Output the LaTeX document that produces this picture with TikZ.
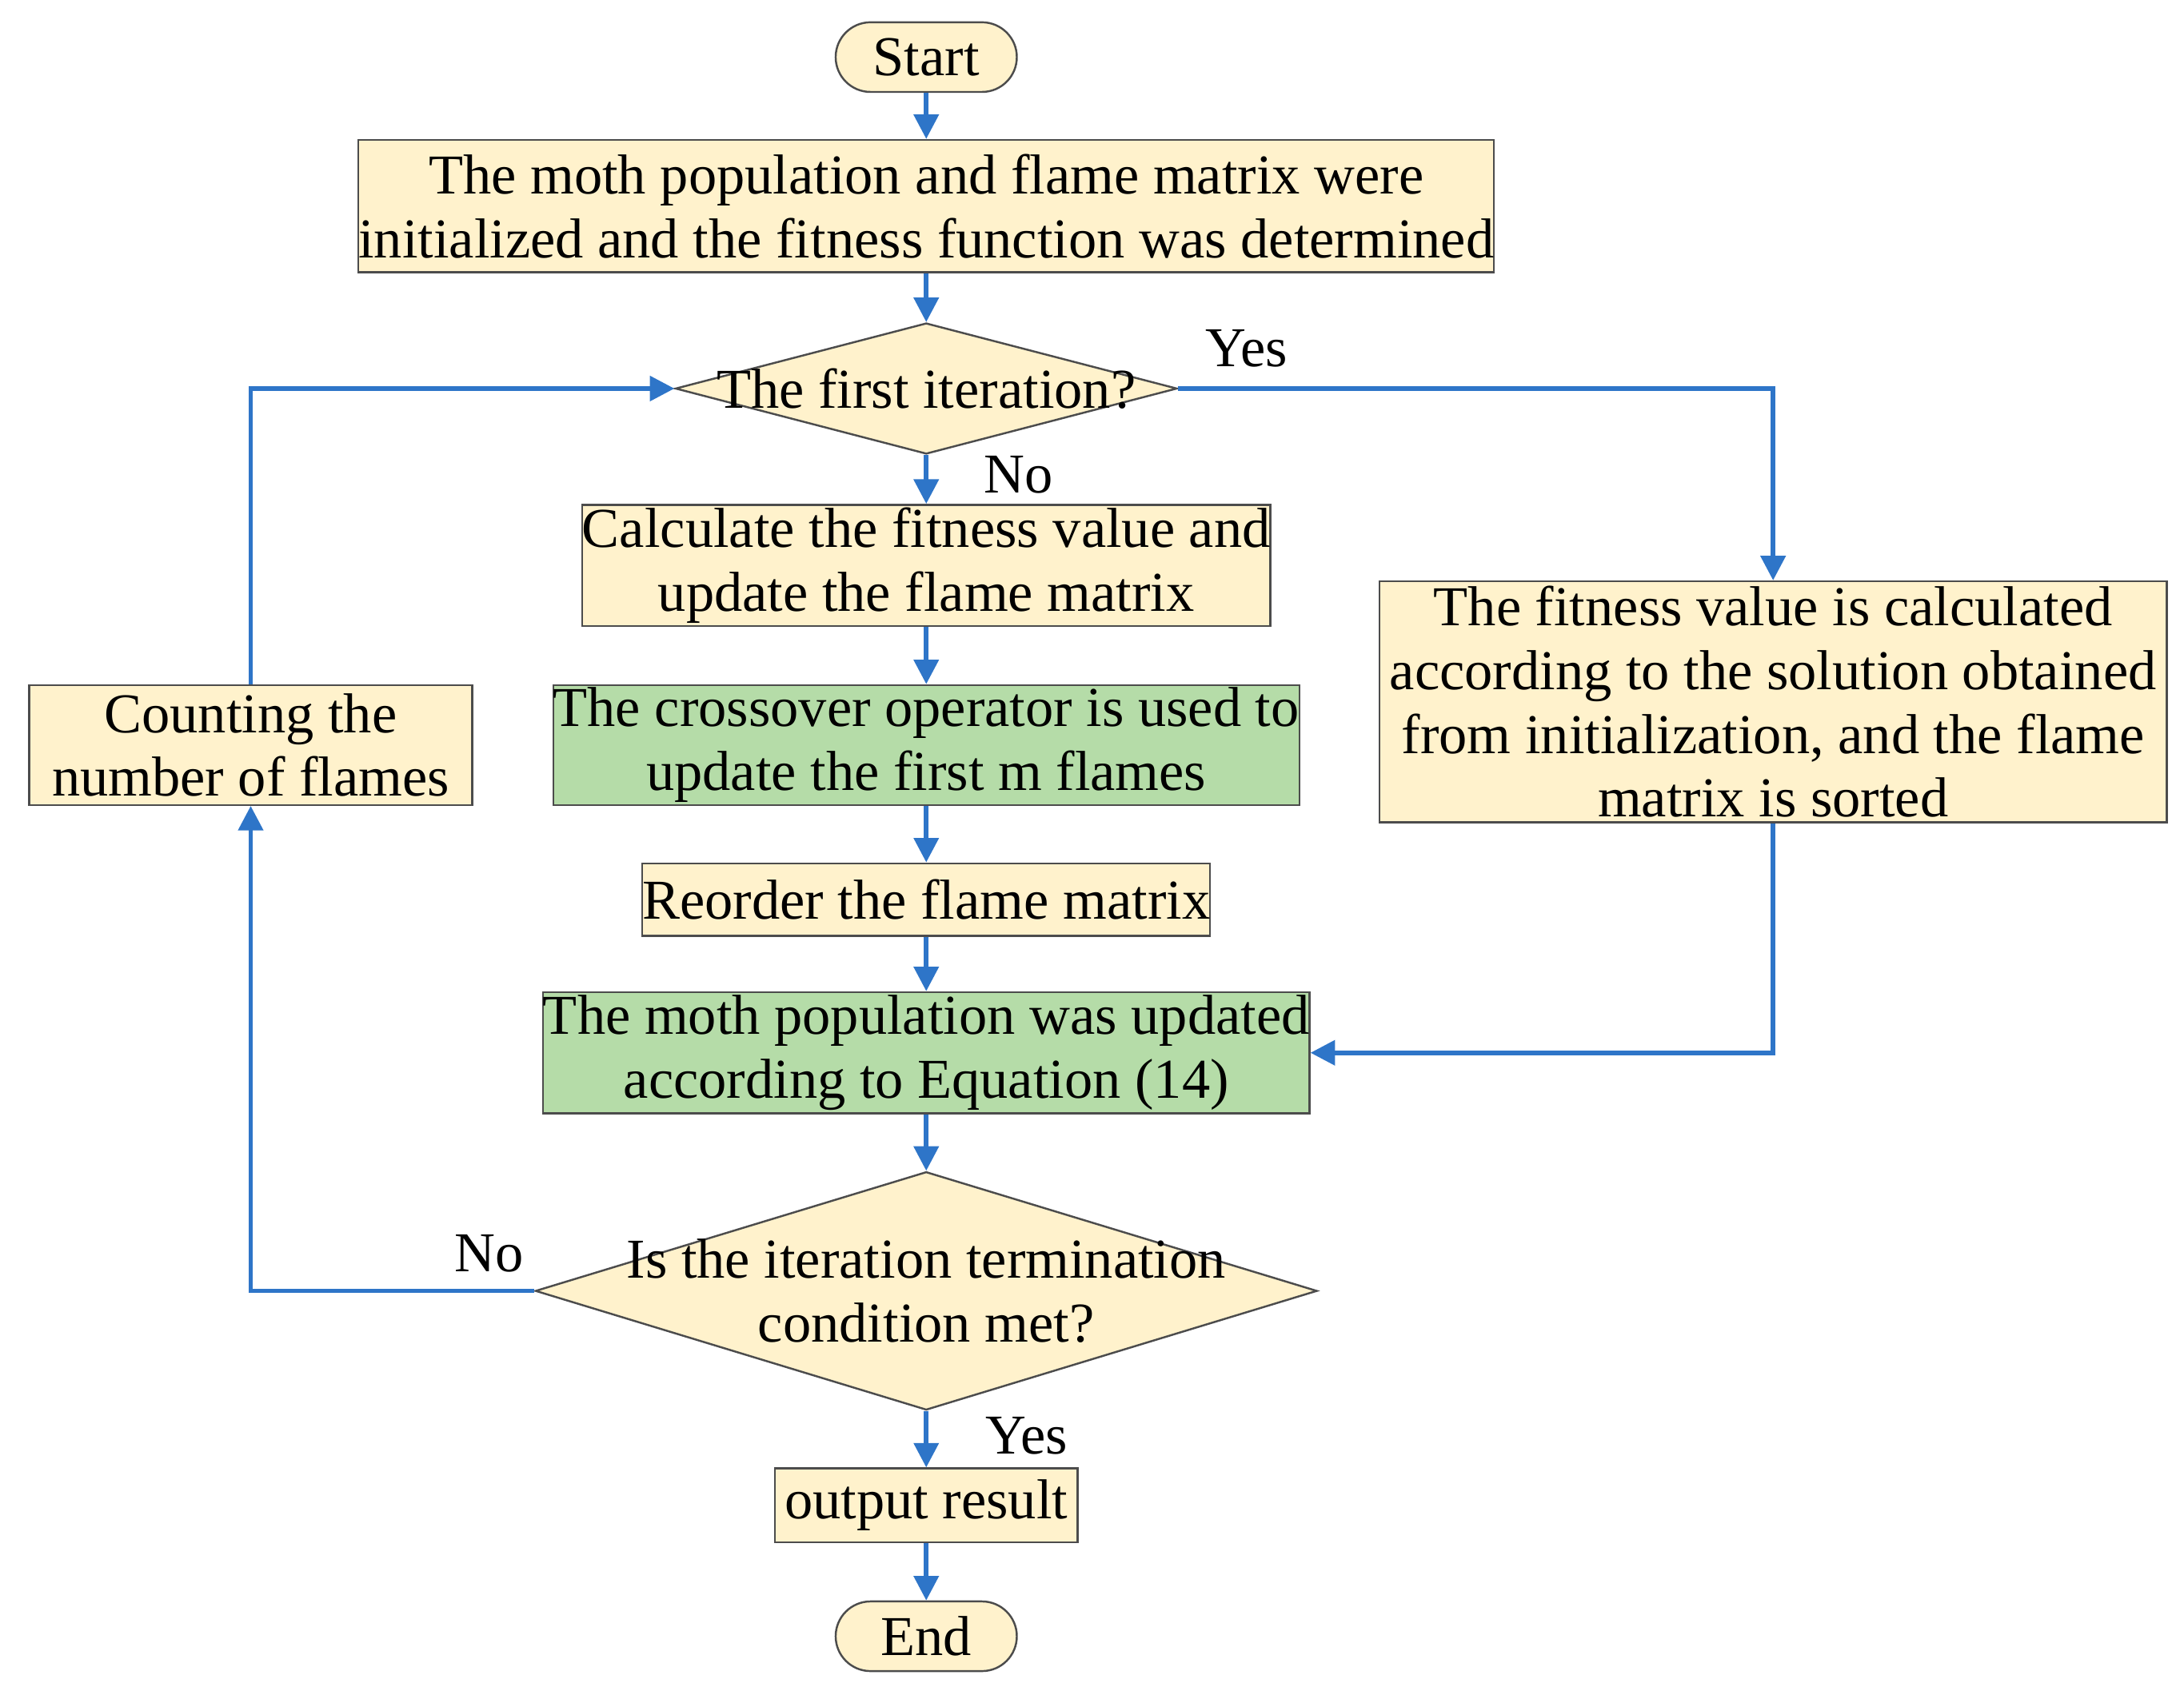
\documentclass[tikz,border=0pt]{standalone}
\usepackage{fontspec}
\setmainfont{Liberation Serif}
\usetikzlibrary{shapes.geometric,arrows.meta}
\definecolor{boxfill}{HTML}{FFF2CC}
\definecolor{greenfill}{HTML}{B5DCA8}
\definecolor{flowblue}{HTML}{2E75C8}
\tikzset{
  proc/.style={draw=black!70, fill=boxfill, align=center, inner sep=0pt, font=\fontsize{11.5}{13}\selectfont},
  green/.style={proc, fill=greenfill},
  term/.style={proc, rounded corners=0.25cm, minimum width=1.3cm, minimum height=0.5cm},
  decide/.style={proc, diamond, aspect=3.8, inner sep=0pt},
  flow/.style={draw=flowblue, line width=0.9pt, -{Triangle[length=5pt,width=5pt]}},
  lbl/.style={font=\fontsize{11.5}{13}\selectfont}
}
\begin{document}
\begin{tikzpicture}[x=0.01cm, y=-0.01cm]
\useasboundingbox (0,0) rectangle (1568,1217);
\node[term] (start) at (665,41) {Start};
\node[proc, minimum width=7.57cm, minimum height=0.95cm] (init) at (665,148) {The moth population and flame matrix were\\initialized and the fitness function was determined};
\node[decide, minimum width=3.6cm, minimum height=0.94cm] (first) at (665,279) {};
\node[lbl] at (665,279) {The first iteration?};
\node[proc, minimum width=4.69cm, minimum height=0.87cm] (calc) at (665,406) {Calculate the fitness value and\\update the flame matrix};
\node[green, minimum width=5.04cm, minimum height=0.86cm] (cross) at (665,535) {The crossover operator is used to\\update the first m flames};
\node[proc, minimum width=3.91cm, minimum height=0.52cm] (reorder) at (665,646) {Reorder the flame matrix};
\node[green, minimum width=5.27cm, minimum height=0.87cm] (moth) at (665,756) {The moth population was updated\\according to Equation (14)};
\node[decide, minimum width=5.61cm, minimum height=1.71cm, aspect=3.3] (term) at (665,927) {};
\node[lbl, align=center] at (665,927) {Is the iteration termination\\condition met?};
\node[proc, minimum width=2.17cm, minimum height=0.53cm] (out) at (665,1081) {output result};
\node[term] (end) at (665,1175) {End};
\node[proc, minimum width=5.65cm, minimum height=1.73cm] (sol) at (1273,504) {The fitness value is calculated\\according to the solution obtained\\from initialization, and the flame\\matrix is sorted};
\node[proc, minimum width=3.18cm, minimum height=0.86cm] (count) at (180,535) {Counting the\\number of flames};
% main line
\draw[flow] (start) -- (init);
\draw[flow] (init) -- (first);
\draw[flow] (first) -- (calc);
\draw[flow] (calc) -- (cross);
\draw[flow] (cross) -- (reorder);
\draw[flow] (reorder) -- (moth);
\draw[flow] (moth) -- (term);
\draw[flow] (term) -- (out);
\draw[flow] (out) -- (end);
% side loops
\draw[flow] (first.east) -| (sol.north);
\draw[flow] (sol.south) |- (moth.east);
\draw[flow] (term.west) -| (count.south);
\draw[flow] (count.north) |- (first.west);
\node[lbl] at (895,250) {Yes};
\node[lbl] at (731,341) {No};
\node[lbl] at (351,900) {No};
\node[lbl] at (737,1031) {Yes};
\end{tikzpicture}
\end{document}
